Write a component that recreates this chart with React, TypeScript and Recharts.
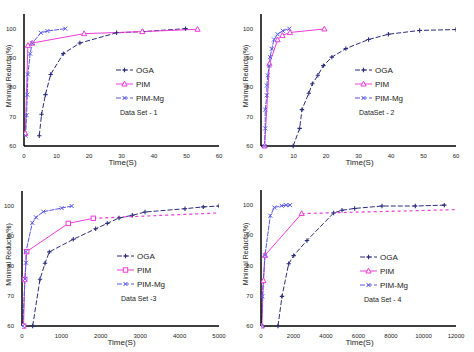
import { Line, LineChart, XAxis, YAxis } from 'recharts';

type Pt = [number, number];

// Data Set - 1 (time in s, minimal reducts %)
const oga1: Pt[] = [[4.7, 63.5], [5.4, 70.8], [6.6, 77.5], [8.2, 84.4], [12.1, 91.5], [17.2, 95.1], [28.5, 98.6], [36.7, 99.0], [49.7, 100]];
const pim1: Pt[] = [[0.4, 64.3], [1.2, 94.3], [2.5, 95.1], [18.5, 98.3], [36.4, 99.0], [53.4, 99.8]];
const pimMg1: Pt[] = [[0.5, 63.5], [0.8, 70.5], [1.0, 77.5], [1.2, 84.4], [1.9, 91.5], [2.5, 95], [5.2, 98.6], [7.2, 99.2], [12.7, 100]];

// Data Set - 2
const oga2: Pt[] = [[9.9, 60], [11.9, 66], [12.6, 72.4], [14.7, 78], [15.8, 81.2], [17.5, 84.1], [19.2, 87.4], [21.8, 90.3], [26.1, 93.2], [33.1, 96.3], [39.2, 98.1], [48.8, 99.4], [60, 99.7]];
const pim2: Pt[] = [[1.1, 60], [2.6, 88], [5.1, 96.2], [6.6, 97.7], [8.9, 98.7], [19.5, 99.9]];
const pimMg2: Pt[] = [[1.1, 60], [1.3, 66], [1.3, 72.4], [1.8, 77.3], [1.8, 80.6], [2.1, 84.1], [2.5, 87.4], [2.8, 90.3], [3.3, 93.1], [4.0, 96.3], [5.1, 98.1], [6.7, 99.3], [8.7, 100]];

// Data Set - 3
const oga3: Pt[] = [[271, 60], [457, 75.6], [584, 80.9], [694, 84.7], [1302, 88.9], [1870, 92.4], [2165, 94.2], [2462, 96], [2800, 96.9], [3122, 98], [4137, 99.1], [4601, 99.7], [5000, 100]];
const pim3: Pt[] = [[40, 60], [70, 75.5], [119, 84.8], [1175, 94.2], [1810, 95.9]];
const pim3Tail: Pt[] = [[1810, 95.9], [5000, 97.7]];
const pimMg3: Pt[] = [[20, 60], [76, 75.7], [101, 81.1], [101, 84.8], [262, 94.4], [355, 96.2], [541, 98.1], [1006, 99.3], [1260, 100]];

// Data Set - 4
const oga4: Pt[] = [[1046, 60], [1292, 69.8], [1703, 80.6], [2010, 83.3], [2830, 88.3], [4470, 97.4], [4985, 98.3], [5763, 98.9], [7446, 99.7], [9496, 99.7], [11280, 100]];
const pim4: Pt[] = [[50, 60], [150, 75], [246, 83.4], [2503, 97.2]];
const pim4Tail: Pt[] = [[2503, 97.2], [12000, 98.5]];
const pimMg4: Pt[] = [[30, 60], [82, 69.8], [246, 83.4], [574, 96.5], [820, 99.2], [1272, 99.8], [1538, 100], [1785, 100]];

const yTicks = [60, 70, 80, 90, 100];
const xTicksSmall = [0, 10, 20, 30, 40, 50, 60];
const xTicks3 = [0, 1000, 2000, 3000, 4000, 5000];
const xTicks4 = [0, 2000, 4000, 6000, 8000, 10000, 12000];

const OGA = '#2b2d7c';
const PIM = '#f03cd8';
const MG = '#5656ec';
const FONT = '"Liberation Sans", Arial, sans-serif';

const toRows = (pts: Pt[]) => pts.map(([t, v]) => ({ t, v }));

type Marker = 'plus' | 'tri' | 'sq' | 'x';

function drawMarker(kind: Marker, cx: number, cy: number, color: string, key?: string) {
  if (kind === 'plus')
    return <path key={key} d={`M${cx - 2.2},${cy}h4.4M${cx},${cy - 2.2}v4.4`} stroke={color} strokeWidth={1.1} fill="none" />;
  if (kind === 'x')
    return <path key={key} d={`M${cx - 2},${cy - 2}l4,4M${cx - 2},${cy + 2}l4,-4`} stroke={color} strokeWidth={1} fill="none" />;
  if (kind === 'sq')
    return <rect key={key} x={cx - 2.2} y={cy - 2.2} width={4.4} height={4.4} stroke={color} strokeWidth={1} fill="#fff" />;
  return <path key={key} d={`M${cx},${cy - 2.8}L${cx + 2.6},${cy + 2}L${cx - 2.6},${cy + 2}Z`} stroke={color} strokeWidth={1} fill="#fff" />;
}

const dot = (kind: Marker, color: string) => (p: any) => {
  if (p.cx == null || p.cy == null) return <g key={p.key} />;
  return drawMarker(kind, p.cx, p.cy, color, p.key);
};

function LegendBox({ setName, pimMarker, x, y }: { setName: string; pimMarker: Marker; x: number; y: number }) {
  const rows: [string, string, Marker, string | undefined][] = [
    ['OGA', OGA, 'plus', '5 2'],
    ['PIM', PIM, pimMarker, undefined],
    ['PIM-Mg', MG, 'x', '5 2'],
  ];
  return (
    <svg width={80} height={52} style={{ position: 'absolute', left: x, top: y, overflow: 'visible' }}>
      {rows.map(([name, color, m, dash], i) => (
        <g key={name}>
          <line x1={0} x2={17} y1={5 + i * 14} y2={5 + i * 14} stroke={color} strokeWidth={1} strokeDasharray={dash} />
          {drawMarker(m, 8.5, 5 + i * 14, color)}
          <text x={20} y={5 + i * 14} dominantBaseline="central" fontSize={8} fontFamily={FONT} fill="#222">{name}</text>
        </g>
      ))}
      <text x={4} y={47} dominantBaseline="central" fontSize={7} fontFamily={FONT} fill="#222">{setName}</text>
    </svg>
  );
}

interface PanelProps {
  oga: Pt[];
  pim: Pt[];
  pimTail?: Pt[];
  pimMg: Pt[];
  pimMarker: Marker;
  xMax: number;
  xTicks: number[];
  yAxisW: number;
  top: number;
  xAxisH: number;
}

function Panel(p: PanelProps) {
  const tick = { fontSize: 6, fill: '#222', fontFamily: FONT };
  const yLabel = {
    value: 'Minimal Reducts(%)',
    content: (lp: any) => {
      const vb = lp.viewBox;
      const x = 8;
      const cy = vb.y + vb.height / 2 - 4;
      return (
        <text x={x} y={cy} transform={`rotate(-90 ${x} ${cy})`} textAnchor="middle" dominantBaseline="central" fontSize={7} fontFamily={FONT} fill="#222">
          Minimal Reducts(%)
        </text>
      );
    },
  };
  const xLabel = {
    value: 'Time(S)',
    content: (lp: any) => {
      const vb = lp.viewBox;
      return (
        <text x={vb.x + vb.width / 2 + 1} y={vb.y + 16.5} textAnchor="middle" dominantBaseline="central" fontSize={8} fontFamily={FONT} fill="#222">
          Time(S)
        </text>
      );
    },
  };
  return (
    <LineChart width={237} height={176} margin={{ top: p.top, right: 18, bottom: 0, left: 0 }}>
      <XAxis
        xAxisId="b"
        dataKey="t"
        type="number"
        domain={[0, p.xMax]}
        ticks={p.xTicks}
        allowDataOverflow
        height={p.xAxisH}
        tick={tick}
        tickLine={false}
        tickMargin={2}
        axisLine={{ stroke: '#000', strokeWidth: 1.5 }}
        label={xLabel}
      />
      <XAxis xAxisId="top" orientation="top" type="number" domain={[0, p.xMax]} height={0} tick={false} tickLine={false} axisLine={{ stroke: '#000', strokeWidth: 1.5 }} />
      <YAxis
        yAxisId="l"
        type="number"
        domain={[60, 105]}
        ticks={yTicks}
        width={p.yAxisW}
        tick={tick}
        tickLine={false}
        tickMargin={2}
        axisLine={{ stroke: '#000', strokeWidth: 1.5 }}
        label={yLabel}
      />
      <YAxis yAxisId="r" orientation="right" type="number" domain={[60, 105]} width={0} tick={false} tickLine={false} axisLine={{ stroke: '#000', strokeWidth: 1.5 }} />
      <Line xAxisId="b" yAxisId="l" data={toRows(p.oga)} dataKey="v" stroke={OGA} strokeWidth={1} strokeDasharray="5 2" dot={dot('plus', OGA)} isAnimationActive={false} />
      {p.pimTail && (
        <Line xAxisId="b" yAxisId="l" data={toRows(p.pimTail)} dataKey="v" stroke={PIM} strokeWidth={1.2} strokeDasharray="3 3" dot={false} legendType="none" isAnimationActive={false} />
      )}
      <Line xAxisId="b" yAxisId="l" data={toRows(p.pim)} dataKey="v" stroke={PIM} strokeWidth={1} dot={dot(p.pimMarker, PIM)} isAnimationActive={false} />
      <Line xAxisId="b" yAxisId="l" data={toRows(p.pimMg)} dataKey="v" stroke={MG} strokeWidth={1} strokeDasharray="5 1" dot={dot('x', MG)} isAnimationActive={false} />
    </LineChart>
  );
}

export default function App() {
  const cell = (left: number, top: number) => ({ position: 'absolute' as const, left, top, width: 237, height: 176 });
  return (
    <div style={{ position: 'absolute', left: 0, top: 0, width: 474, height: 352, background: '#fff' }}>
      <div style={cell(0, 0)}>
        <Panel oga={oga1} pim={pim1} pimMg={pimMg1} xMax={60} xTicks={xTicksSmall} pimMarker="tri" yAxisW={24} top={14} xAxisH={30} />
        <LegendBox setName="Data Set - 1" pimMarker="tri" x={116} y={65} />
      </div>
      <div style={cell(237, 0)}>
        <Panel oga={oga2} pim={pim2} pimMg={pimMg2} xMax={60} xTicks={xTicksSmall} pimMarker="tri" yAxisW={24} top={14} xAxisH={30} />
        <LegendBox setName="DataSet - 2" pimMarker="tri" x={118} y={65} />
      </div>
      <div style={cell(0, 176)}>
        <Panel oga={oga3} pim={pim3} pimTail={pim3Tail} pimMg={pimMg3} xMax={5000} xTicks={xTicks3} pimMarker="sq" yAxisW={22} top={15} xAxisH={26} />
        <LegendBox setName="Data Set -3" pimMarker="sq" x={117} y={75} />
      </div>
      <div style={cell(237, 176)}>
        <Panel oga={oga4} pim={pim4} pimTail={pim4Tail} pimMg={pimMg4} xMax={12000} xTicks={xTicks4} pimMarker="tri" yAxisW={24} top={14} xAxisH={26} />
        <LegendBox setName="Data Set - 4" pimMarker="tri" x={123} y={76} />
      </div>
    </div>
  );
}
